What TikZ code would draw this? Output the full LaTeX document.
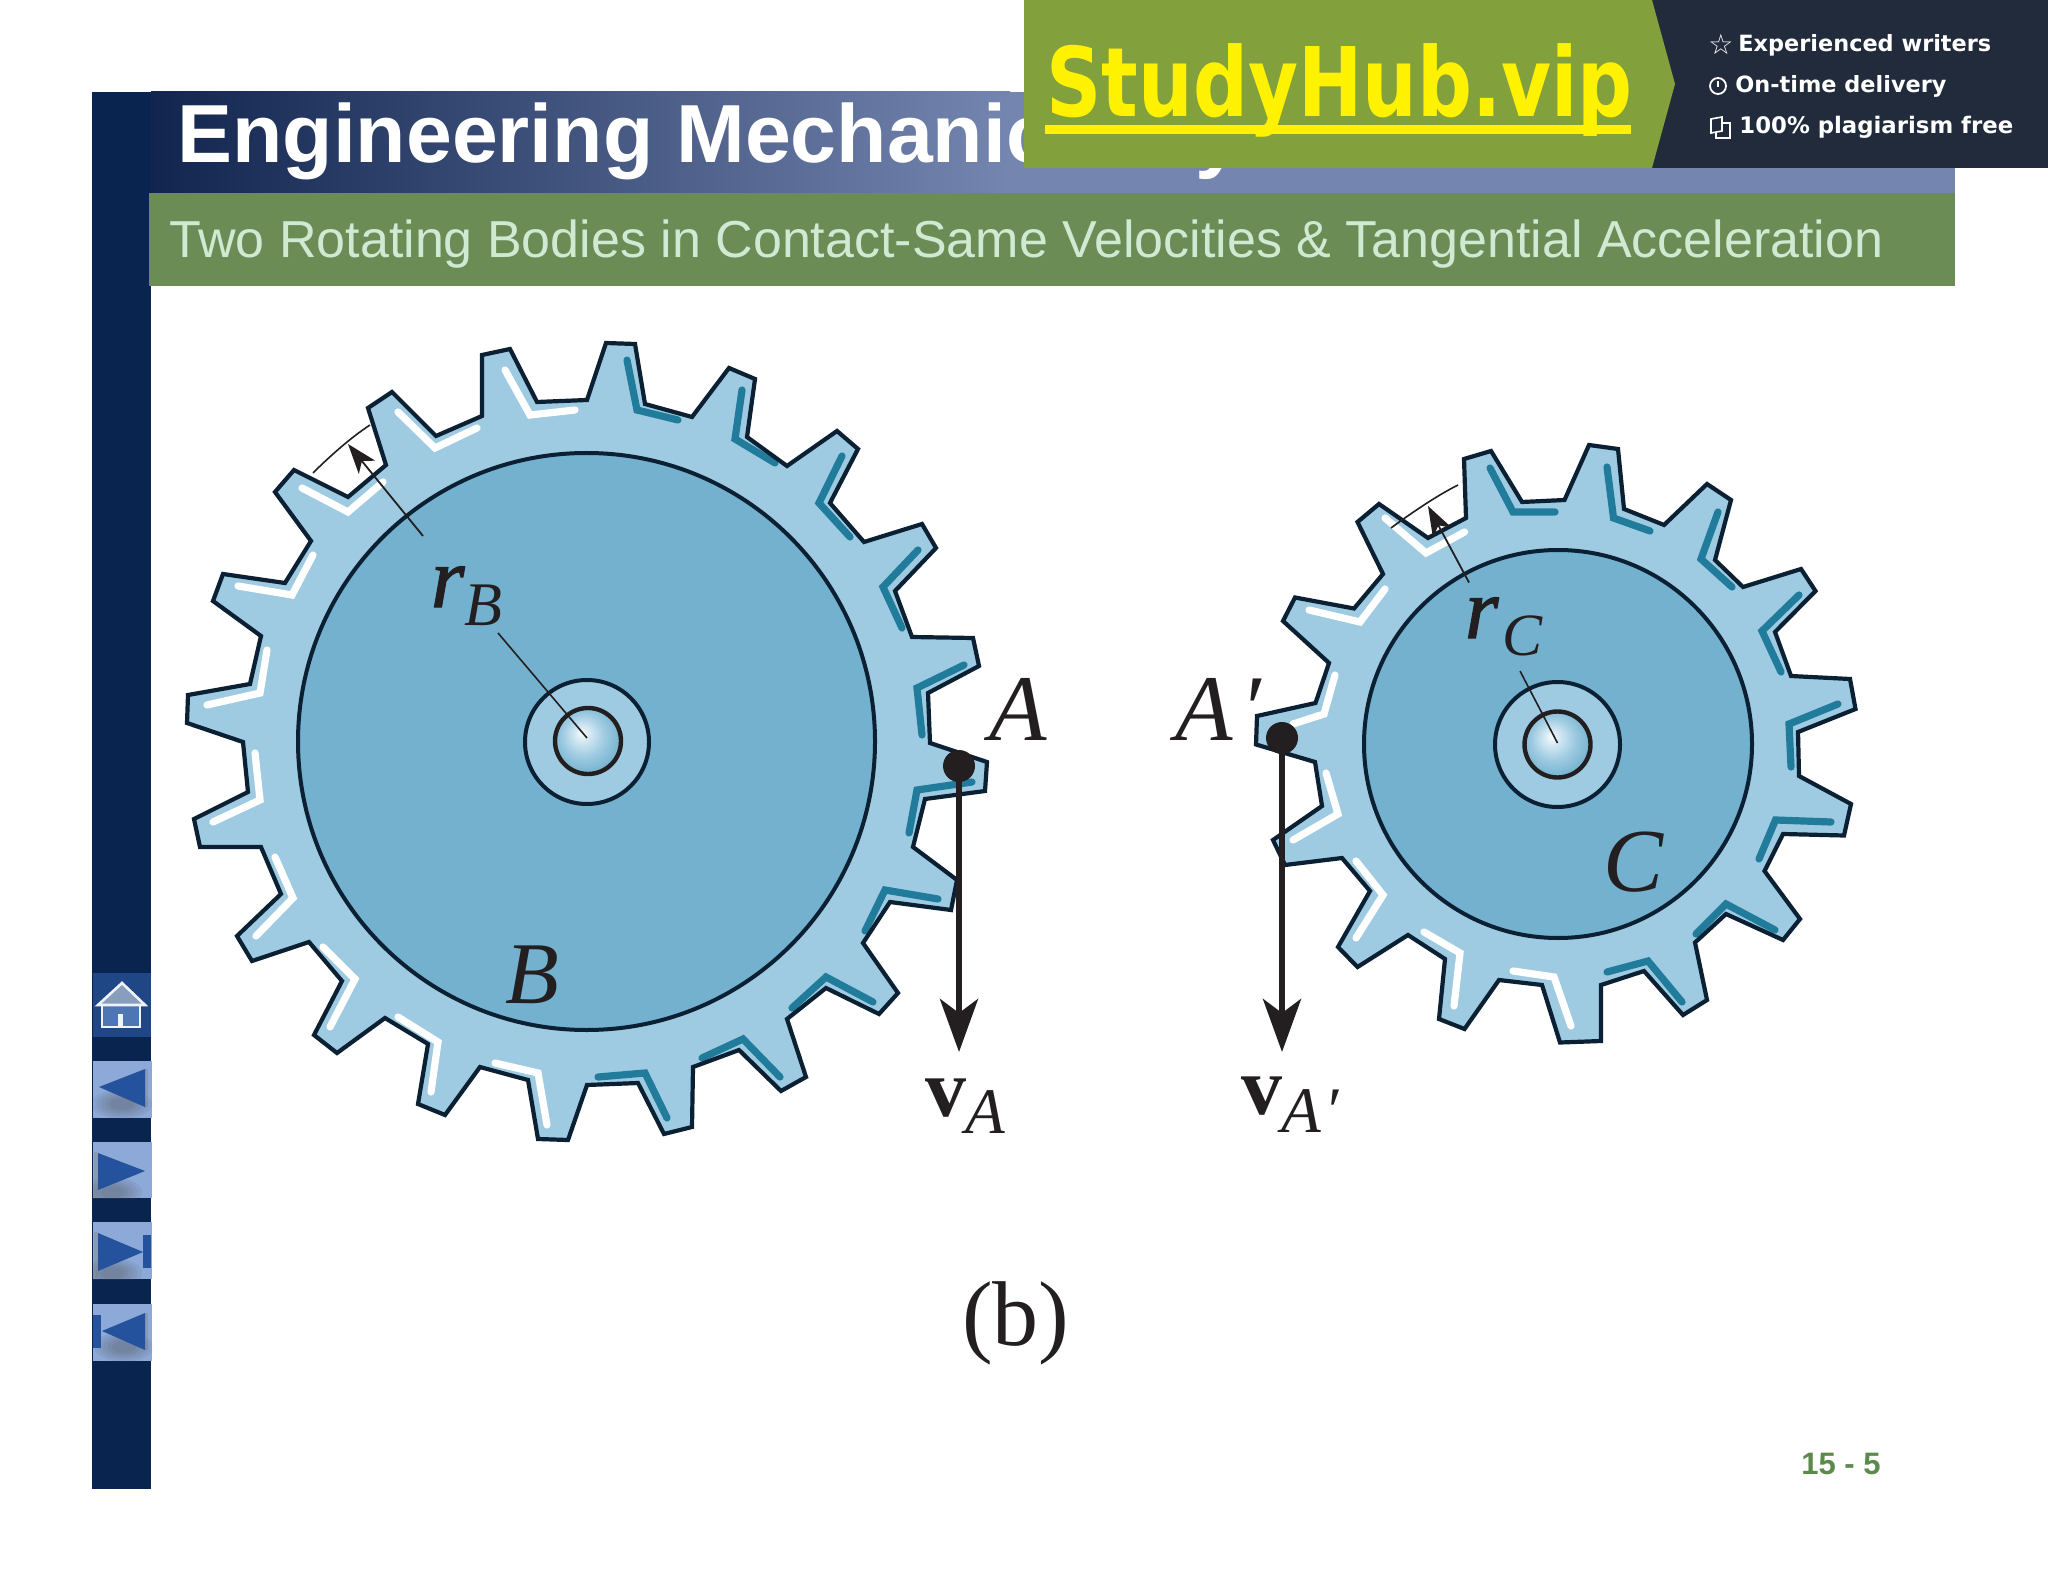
\documentclass[tikz,border=0pt]{standalone}
\usepackage{fontspec}
\setmainfont{Liberation Serif}
\newfontfamily\sansf{Liberation Sans}
\newfontfamily\djf{DejaVu Sans}
\newfontfamily\hubf[FakeStretch=0.80]{DejaVu Sans}
\newfontfamily\rfont[FakeBold=1.4]{Liberation Serif}
\usetikzlibrary{arrows.meta,shapes.geometric}
\definecolor{gearlight}{HTML}{9ECBE2}
\definecolor{geardisk}{HTML}{73B1CE}
\definecolor{gearline}{HTML}{0B2033}
\definecolor{gearteal}{HTML}{217C9C}
\definecolor{inkblack}{HTML}{231F20}
\definecolor{barnavy}{HTML}{0A2450}
\definecolor{bandstart}{HTML}{12254E}
\definecolor{bandblue}{HTML}{7486AF}
\definecolor{bandgreen}{HTML}{6B8C55}
\definecolor{subtext}{HTML}{CFE9D3}
\definecolor{hubgreen}{HTML}{82A03C}
\definecolor{hubdark}{HTML}{212B3B}
\definecolor{navblue}{HTML}{24529C}
\definecolor{navlight}{HTML}{8DA9D8}
\definecolor{homebg}{HTML}{1F4785}
\definecolor{pagegreen}{HTML}{5C8A4A}
\pgfdeclarehorizontalshading{bandshade}{100bp}{color(0bp)=(bandstart); color(25bp)=(bandstart); color(75bp)=(bandblue); color(100bp)=(bandblue)}
\pgfdeclareradialshading{hubglow}{\pgfpoint{-5bp}{6bp}}{color(0bp)=(white!92!gearlight); color(6bp)=(white!55!gearlight); color(16bp)=(gearlight); color(28bp)=(geardisk); color(34bp)=(gearteal!70!geardisk); color(50bp)=(gearteal)}
\tikzset{
  x=0.5pt,y=-0.5pt,
  gearbody/.style={fill=gearlight},
  gearedge/.style={draw=gearline,line width=2.1pt,line join=miter,miter limit=3},
  hlwhite/.style={draw=white,line width=3.6pt,line cap=round,line join=miter},
  hlteal/.style={draw=gearteal,line width=3.6pt,line cap=round,line join=miter},
  pitch/.style={draw=gearline,line width=2pt,fill=geardisk},
  hubouter/.style={draw=gearline,line width=2pt,fill=gearlight},
  hubring/.style={draw=inkblack,line width=2.2pt},
  thinline/.style={draw=inkblack,line width=0.8pt},
  dimarrow/.style={draw=inkblack,line width=0.9pt,-{Stealth[length=15pt,width=10.5pt,inset=4pt]}},
  velarrow/.style={draw=inkblack,line width=3pt,-{Stealth[length=26.5pt,width=19pt,inset=7pt]}},
  pointdot/.style={circle,fill=inkblack,inner sep=0pt,minimum size=16pt},
  lbl/.style={anchor=base west,inner sep=0pt,outer sep=0pt,text=inkblack},
  navbtn/.style={fill=navlight},
  navtri/.style={fill=navblue},
  navshadow/.style={fill=black!70,fill opacity=0.09},
  whitetext/.style={anchor=base west,inner sep=0pt,text=white}
}
\newcommand{\navblob}[4]{\foreach \k in {1,0.85,0.7,0.55,0.4}{\fill[navshadow] (#1,#2) ellipse ({#3*\k} and {#4*\k});}}
\begin{document}
\begin{tikzpicture}
\path[use as bounding box] (0,0) rectangle (2048,1582);
\fill[white] (0,0) rectangle (2048,1582);
% left bar and header bands
\fill[barnavy] (92,92) rectangle (151,1489);
\shade[shading=bandshade] (151,92) rectangle (1010,193);
\fill[bandblue] (1010,92) rectangle (1955,193);
\fill[bandgreen] (149,193) rectangle (1955,286);
\node[whitetext,font=\sansf\bfseries\fontsize{41.2pt}{45pt}\selectfont] (title) at (177,163) {Engineering Mechanics:\kern-10pt{} Dynamics};
\node[anchor=base west,inner sep=0pt,text=subtext,font=\sansf\fontsize{26pt}{30pt}\selectfont] (subtitle) at (169,258) {Two Rotating Bodies in Contact-Same Velocities \& Tangential Acceleration};
% banner
\fill[hubdark] (1640,0) rectangle (2048,168);
\fill[hubgreen] (1024,0) -- (1652,0) -- (1675,84) -- (1652,168) -- (1024,168) -- cycle;
\node[anchor=base west,inner sep=0pt,text=yellow,font=\hubf\bfseries\fontsize{48pt}{50pt}\selectfont] (hub) at (1046,117) {StudyHub.vip};
\fill[yellow] (1045,125) rectangle (1631,134);
\node[anchor=center,inner sep=0pt,text=white,font=\djf\bfseries\fontsize{14pt}{14pt}\selectfont] (star) at (1721,44) {☆};
\node[whitetext,font=\djf\bfseries\fontsize{11.2pt}{12pt}\selectfont] (w1) at (1738,52) {Experienced writers};
\draw[white,line width=0.9pt] (1718,86) circle (8);
\draw[white,line width=0.9pt] (1718,81) -- (1718,87);
\node[whitetext,font=\djf\bfseries\fontsize{11.2pt}{12pt}\selectfont] (w2) at (1735,93) {On-time delivery};
\draw[white,line width=0.8pt] (1716,123) rectangle (1730,138);
\draw[white,line width=0.8pt,fill=hubdark] (1711,119) -- (1722,117) -- (1722,131) -- (1711,133) -- cycle;
\node[whitetext,font=\djf\bfseries\fontsize{11.4pt}{12pt}\selectfont] (w3) at (1739,134) {100\% plagiarism free};
% nav buttons
\fill[homebg] (93,973) rectangle (151,1037);
\fill[navlight!70!gray] (122,984) -- (98,1005) -- (145,1005) -- cycle;
\fill[navblue!60!navlight] (102,1005) rectangle (140,1027);
\draw[white!85!navlight,line width=1.3pt] (98,1005) -- (122,983) -- (145,1005) -- cycle;
\draw[white!85!navlight,line width=1.3pt] (102,1005) -- (102,1027) -- (140,1027) -- (140,1005);
\fill[white!85!navlight] (118,1014) rectangle (123,1027);
% previous
\fill[navbtn] (93,1061) rectangle (152,1118);
\begin{scope}
\clip (93,1061) rectangle (152,1118);
\navblob{122}{1104}{30}{15}
\fill[black!50,fill opacity=0.35] (145,1069) rectangle (148,1107);
\end{scope}
\fill[navtri] (99,1087) -- (145,1069) -- (145,1107) -- cycle;
% next
\fill[navbtn] (93,1142) rectangle (152,1198);
\begin{scope}
\clip (93,1142) rectangle (152,1198);
\navblob{112}{1192}{30}{15}
\fill[black!50,fill opacity=0.35] (94,1152) rectangle (98,1197);
\end{scope}
\fill[navtri] (98,1153) -- (145,1171) -- (98,1190) -- cycle;
% last
\fill[navbtn] (93,1222) rectangle (152,1279);
\begin{scope}
\clip (93,1222) rectangle (152,1279);
\navblob{112}{1273}{30}{15}
\fill[black!50,fill opacity=0.35] (94,1232) rectangle (98,1278);
\end{scope}
\fill[navtri] (98,1233) -- (143,1252) -- (98,1271) -- cycle;
\fill[navtri] (143,1235) rectangle (151,1268);
% first
\fill[navbtn] (93,1304) rectangle (152,1361);
\begin{scope}
\clip (93,1304) rectangle (152,1361);
\navblob{124}{1347}{30}{15}
\fill[black!50,fill opacity=0.35] (145,1313) rectangle (148,1350);
\end{scope}
\fill[navtri] (102,1331) -- (145,1313) -- (145,1350) -- cycle;
\fill[navtri] (93,1315) rectangle (101,1348);
% gear B
\def\gearBpath{(606,343) -- (635,344) -- (645,404) -- (692,417) -- (729,368) -- (755,379) -- (747,437) -- (787,466) -- (837,431) -- (858,449) -- (830,503) -- (864,542) -- (922,524) -- (936,548) -- (895,591) -- (912,637) -- (973,638) -- (979,666) -- (928,693) -- (930,743) -- (987,762) -- (985,791) -- (925,799) -- (913,847) -- (957,880) -- (951,910) -- (890,902) -- (863,943) -- (898,993) -- (879,1014) -- (826,988) -- (787,1019) -- (806,1077) -- (781,1091) -- (739,1050) -- (693,1067) -- (692,1127) -- (664,1134) -- (638,1083) -- (587,1085) -- (568,1140) -- (538,1139) -- (528,1080) -- (480,1067) -- (445,1115) -- (418,1104) -- (428,1044) -- (385,1018) -- (337,1053) -- (314,1035) -- (342,981) -- (309,942) -- (252,961) -- (237,936) -- (281,894) -- (261,847) -- (200,847) -- (194,819) -- (248,792) -- (243,742) -- (187,723) -- (188,695) -- (250,684) -- (261,636) -- (213,601) -- (223,574) -- (285,583) -- (311,541) -- (275,492) -- (294,470) -- (348,497) -- (386,465) -- (368,408) -- (392,392) -- (436,436) -- (482,416) -- (482,355) -- (510,349) -- (537,402) -- (587,400) -- cycle}
\path[gearbody] \gearBpath;
\draw[hlwhite] (207,705) -- (260,693) -- (267,650);
\draw[hlwhite] (238,586) -- (292,595) -- (313,555);
\draw[hlwhite] (302,488) -- (348,512) -- (383,482);
\draw[hlwhite] (398,412) -- (435,448) -- (477,428);
\draw[hlwhite] (505,370) -- (530,415) -- (575,410);
\draw[hlwhite] (255,753) -- (260,800) -- (213,822);
\draw[hlwhite] (275,857) -- (293,898) -- (256,936);
\draw[hlwhite] (323,947) -- (355,979) -- (330,1027);
\draw[hlwhite] (398,1017) -- (438,1042) -- (431,1092);
\draw[hlwhite] (495,1063) -- (538,1073) -- (547,1125);
\draw[hlteal] (627,360) -- (637,410) -- (678,420);
\draw[hlteal] (742,390) -- (735,439) -- (775,463);
\draw[hlteal] (842,456) -- (819,503) -- (850,537);
\draw[hlteal] (918,550) -- (883,587) -- (902,628);
\draw[hlteal] (964,665) -- (917,688) -- (922,735);
\draw[hlteal] (972,782) -- (917,790) -- (909,833);
\draw[hlteal] (938,899) -- (885,890) -- (865,931);
\draw[hlteal] (873,1002) -- (826,977) -- (792,1008);
\draw[hlteal] (780,1077) -- (743,1039) -- (702,1058);
\draw[hlteal] (667,1118) -- (645,1073) -- (598,1077);
\path[gearedge] \gearBpath;
\draw[pitch] (586.5,741.5) circle (288.5);
\draw[hubouter] (587,742) circle (62);
\shade[shading=hubglow] (588,741) circle (33);
\draw[hubring] (588,741) circle (33);
% gear C
\def\gearCpath{(1589,445) -- (1618,449) -- (1624,509) -- (1664,525) -- (1707,484) -- (1731,500) -- (1715,560) -- (1743,587) -- (1801,569) -- (1815.5,591) -- (1775,632) -- (1791,676) -- (1850,679) -- (1855.5,709) -- (1798,732) -- (1799,776) -- (1851,804) -- (1844,835.5) -- (1783,834) -- (1764.5,871) -- (1800,919) -- (1783,940) -- (1726,914) -- (1695,942.5) -- (1707,1000) -- (1683,1015) -- (1644,971) -- (1601,985) -- (1601,1041) -- (1560,1042.5) -- (1542,985) -- (1499,980) -- (1464.5,1029) -- (1439,1019) -- (1445,959) -- (1408,935) -- (1357.5,967) -- (1338,947) -- (1370,891) -- (1342,858) -- (1285,865) -- (1273,840) -- (1322,806) -- (1315,762) -- (1256,744.5) -- (1257,716) -- (1315.5,703) -- (1329,663) -- (1283,621) -- (1295,597.5) -- (1354,608.5) -- (1383,574) -- (1357.5,522) -- (1379,504) -- (1428,538) -- (1466,518) -- (1464,459) -- (1491,451) -- (1522,502) -- (1564.5,500) -- cycle}
\path[gearbody] \gearCpath;
\draw[hlwhite] (1385,518) -- (1426,553) -- (1464.5,532);
\draw[hlwhite] (1309,610) -- (1360,622) -- (1385,589);
\draw[hlwhite] (1335,675) -- (1324,714) -- (1293,724);
\draw[hlwhite] (1326,773) -- (1338,814) -- (1293,840);
\draw[hlwhite] (1356,861) -- (1383,895) -- (1356,938);
\draw[hlwhite] (1424,932) -- (1460,953) -- (1454,1006);
\draw[hlwhite] (1513,971) -- (1554,977) -- (1571,1026);
\draw[hlteal] (1490,468) -- (1513,512) -- (1555,512);
\draw[hlteal] (1607,467) -- (1613.5,518) -- (1650,531);
\draw[hlteal] (1718,512) -- (1701,559) -- (1732,587);
\draw[hlteal] (1799,595) -- (1762,631) -- (1781,672);
\draw[hlteal] (1838,704) -- (1789,724) -- (1791,767);
\draw[hlteal] (1831,822) -- (1775.5,820) -- (1759,859);
\draw[hlteal] (1775,930) -- (1726,904) -- (1696,934);
\draw[hlteal] (1682,1002) -- (1648,961) -- (1607,972);
\path[gearedge] \gearCpath;
\draw[pitch] (1558,744) circle (194);
\draw[hubouter] (1557.5,744.5) circle (62.5);
\shade[shading=hubglow] (1557.5,744.5) circle (33);
\draw[hubring] (1557.5,744.5) circle (33);
% dimension lines gear B
\coordinate (rBtail) at (423,536);
\coordinate (rBtip) at (348,444);
\coordinate (rBleadA) at (498,633);
\coordinate (rBleadB) at (587,738);
\draw[thinline] (313,473) .. controls (328,458) and (350,438) .. (370,425);
\draw[dimarrow] (rBtail) -- (rBtip);
\draw[thinline] (rBleadA) -- (rBleadB);
% dimension lines gear C
\coordinate (rCtail) at (1469,582.5);
\coordinate (rCtip) at (1428,506);
\coordinate (rCleadA) at (1520,671);
\coordinate (rCleadB) at (1557.5,743);
\draw[thinline] (1391,528) .. controls (1410,514) and (1436,496) .. (1458,485);
\draw[dimarrow] (rCtail) -- (rCtip);
\draw[thinline] (rCleadA) -- (rCleadB);
% velocity arrows
\node[pointdot] (dotA) at (959,766) {};
\node[pointdot] (dotAp) at (1282,738) {};
\coordinate (tipA) at (959,1052);
\coordinate (tipAp) at (1282,1052);
\draw[velarrow] (dotA.center) -- (tipA);
\draw[velarrow] (dotAp.center) -- (tipAp);
% labels
\node[lbl,font=\rfont\itshape\fontsize{43pt}{45pt}\selectfont] (lrb) at (431,607) {r};
\node[lbl,font=\itshape\fontsize{31pt}{30pt}\selectfont] (lrbs) at (464,625) {B};
\node[lbl,font=\itshape\fontsize{44pt}{45pt}\selectfont] (lB) at (505,1003) {B};
\node[lbl,font=\itshape\fontsize{47pt}{45pt}\selectfont] (lA) at (989,740) {A};
\node[lbl,font=\itshape\fontsize{47pt}{45pt}\selectfont] (lAp) at (1175,740) {A\kern4pt′};
\node[lbl,font=\bfseries\fontsize{41pt}{45pt}\selectfont] (lv) at (925,1116) {v};
\node[lbl,font=\itshape\fontsize{32.5pt}{30pt}\selectfont] (lvs) at (965,1133) {A};
\node[lbl,font=\bfseries\fontsize{41pt}{45pt}\selectfont] (lvp) at (1241,1114) {v};
\node[lbl,font=\itshape\fontsize{32.5pt}{30pt}\selectfont] (lvps) at (1281,1132) {A\kern2pt′};
\node[lbl,font=\rfont\itshape\fontsize{43pt}{45pt}\selectfont] (lrc) at (1465,638) {r};
\node[lbl,font=\itshape\fontsize{30pt}{30pt}\selectfont] (lrcs) at (1502,655) {C};
\node[lbl,font=\itshape\fontsize{45pt}{45pt}\selectfont] (lC) at (1603,891) {C};
\node[lbl,font=\fontsize{46pt}{45pt}\selectfont] (fig) at (962,1345) {(b)};
\node[anchor=base west,inner sep=0pt,text=pagegreen,font=\sansf\bfseries\fontsize{15.5pt}{16pt}\selectfont] (page) at (1801,1474) {15 - 5};
\end{tikzpicture}
\end{document}
